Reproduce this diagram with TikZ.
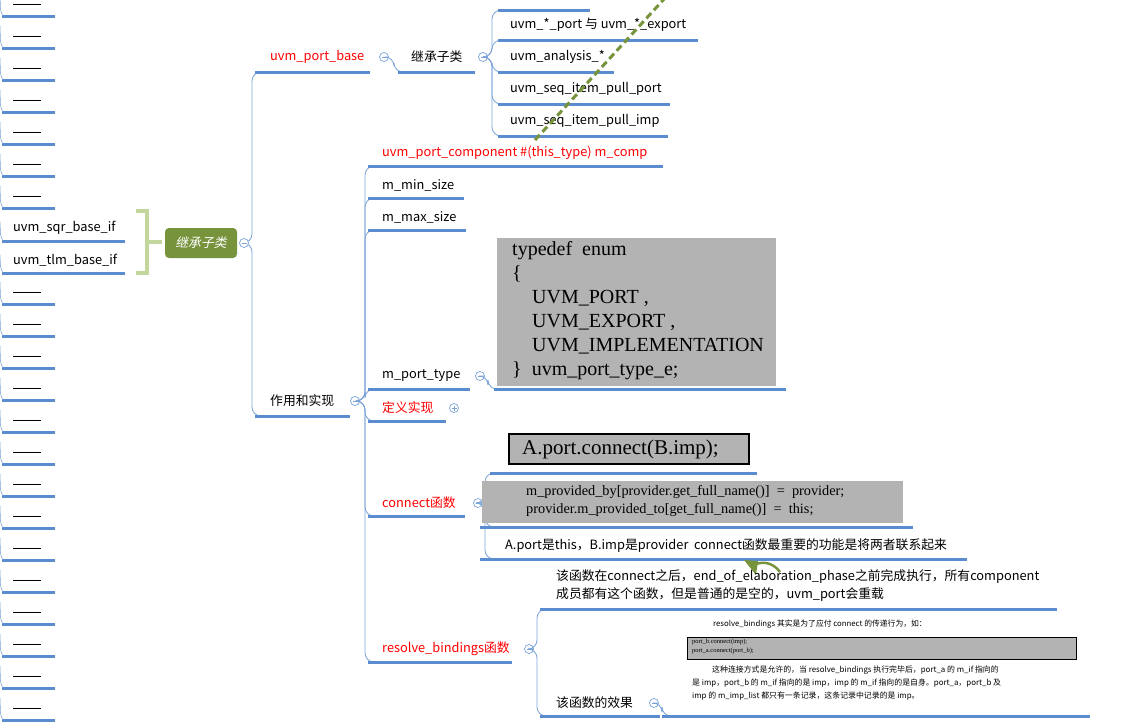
\documentclass[tikz,border=0pt]{standalone}
\usepackage{fontspec}
\setmainfont{Noto Sans CJK SC}
\newfontfamily\slantcjk[FakeSlant=0.2]{Noto Sans CJK SC}
\newfontfamily\serifx{Liberation Serif}
\usetikzlibrary{arrows.meta}
\definecolor{ub}{HTML}{5B8CD0}
\definecolor{cb}{HTML}{7AA3D8}
\definecolor{ol}{HTML}{77933C}
\definecolor{lg}{HTML}{C3D69B}
\definecolor{gb}{HTML}{B3B3B3}
\definecolor{rd}{HTML}{FF0000}
\tikzset{
 ul/.style={ub,line width=3pt},
 br/.style={cb,line width=0.8pt,rounded corners=9pt},
 tx/.style={anchor=west,inner sep=0pt,font=\fontsize{12.8}{15}\selectfont},
 rt/.style={tx,text=rd},
}
\newcommand{\minusc}[2]{\draw[cb,fill=white,line width=0.7pt] (#1,#2) circle (4.5pt); \draw[cb,line width=0.7pt] (#1-2.5,#2)--(#1+2.5,#2);}
\newcommand{\plusc}[2]{\minusc{#1}{#2}\draw[cb,line width=0.7pt] (#1,#2-2.5)--(#1,#2+2.5);}
\begin{document}
\begin{tikzpicture}[x=1pt,y=-1pt]
\useasboundingbox (0,0) rectangle (1125,723);
% left column
\foreach \y in {4,36,...,196,292,324,...,708} \draw[black,line width=0.8pt] (13,\y)--(41,\y);
\foreach \y in {16,48,...,208,304,336,...,720} {\draw[ul] (2,\y)--(55,\y); \draw[cb,line width=0.6pt,rounded corners=4pt] (0,\y-22)--(0.5,\y-4)--(3,\y);}
\draw[ul] (2,241)--(125,241); \draw[ul] (2,273)--(125,273);
\draw[cb,line width=0.6pt,rounded corners=4pt] (0,222)--(0.5,237)--(3,241);
\draw[cb,line width=0.6pt,rounded corners=4pt] (0,255)--(0.5,269)--(3,273);
\node[tx] (sqr) at (13,228) {uvm\_sqr\_base\_if};
\node[tx] (tlm) at (13,260) {uvm\_tlm\_base\_if};
% bracket
\draw[lg,line width=4pt] (136,211)--(147,211)--(147,273)--(136,273);
\draw[lg,line width=4pt] (147,242)--(162,242);
\node[fill=ol,rounded corners=4pt,minimum width=72pt,minimum height=30pt,text=white,font=\fontsize{12.8}{15}\slantcjk] (root) at (201,243) {继承子类};
\coordinate (rc) at (244,243);
% trunk
\draw[br] (rc)--(252,243)--(252,72)--(262,72);
\draw[br] (rc)--(252,243)--(252,416)--(262,416);
\minusc{244}{243}
% uvm_port_base
\draw[ul] (255,72)--(370,72);
\node[rt] (pb) at (270,57) {uvm\_port\_base};
\minusc{384}{57}
\draw[br] (388,57)--(394,57)--(394,72)--(400,72);
\draw[ul] (398,72)--(475,72);
\node[tx] (jc) at (411,57) {继承子类};
\minusc{483}{57}
\foreach \yy in {10,40,72,104,136} \draw[br] (487,57)--(492,57)--(492,\yy)--(500,\yy);
\draw[ul] (498,10)--(590,10);
\draw[ul] (498,40)--(698,40);
\draw[ul] (498,72)--(614,72);
\draw[ul] (498,104)--(670,104);
\draw[ul] (498,136)--(668,136);
\node[tx] (c1) at (510,25) {uvm\_*\_port 与 uvm\_*\_export};
\node[tx] (c2) at (510,57) {uvm\_analysis\_*};
\node[tx] (c3) at (510,89) {uvm\_seq\_item\_pull\_port};
\node[tx] (c4) at (510,121) {uvm\_seq\_item\_pull\_imp};
\node[tx] (c0) at (510,-6) {uvm\_*\_if};
% 作用和实现
\draw[ul] (255,416)--(350,416);
\node[tx] (zy) at (270,401) {作用和实现};
\minusc{355}{401}
\foreach \yy in {166,198,230,389,421,516,662} \draw[br] (359,401)--(365,401)--(365,\yy)--(372,\yy);
\draw[ul] (368,166)--(663,166);
\node[rt] (mc) at (382,153) {uvm\_port\_component \#(this\_type) m\_comp};
\draw[ul] (368,198)--(464,198);
\node[tx] (mn) at (382,185) {m\_min\_size};
\draw[ul] (368,230)--(466,230);
\node[tx] (mx) at (382,217) {m\_max\_size};
% m_port_type
\draw[ul] (368,389)--(470,389);
\node[tx] (mp) at (382,376) {m\_port\_type};
\minusc{480}{376}
\draw[br] (484,376)--(488,376)--(488,389)--(496,389);
\draw[ul] (494,389)--(786,389);
\node[fill=gb,anchor=north west,minimum width=279pt,minimum height=148pt,inner sep=0pt] (enb) at (497,238) {};
\node[anchor=north west,inner sep=0pt,align=left,font=\serifx\fontsize{20}{24}\selectfont] (en) at (512,241) {typedef\ \ enum\\\{\\\hspace{20pt}UVM\_PORT\ ,\\\hspace{20pt}UVM\_EXPORT\ ,\\\hspace{20pt}UVM\_IMPLEMENTATION\\\}\ \ uvm\_port\_type\_e;};
% 定义实现
\draw[ul] (368,421)--(446,421);
\node[rt] (dy) at (382,408) {定义实现};
\plusc{454}{408}
% connect
\draw[ul] (368,516)--(465,516);
\node[rt] (cf) at (382,503) {connect函数};
\minusc{478}{503}
\foreach \yy in {473,527,559} \draw[br] (482,503)--(485,503)--(485,\yy)--(493,\yy);
\draw[ul] (490,473)--(757,473);
\node[fill=gb,draw=black,line width=1.5pt,anchor=north west,minimum width=240pt,minimum height=30pt,inner sep=0pt] (ab) at (508,433) {};
\node[anchor=west,inner sep=0pt,font=\serifx\fontsize{21}{24}\selectfont] (abt) at (522,449) {A.port.connect(B.imp);};
\draw[ul] (480,527)--(913,527);
\node[fill=gb,anchor=north west,minimum width=421pt,minimum height=42pt,inner sep=0pt] (pb2) at (482,481) {};
\node[anchor=north west,inner sep=0pt,align=left,font=\serifx\fontsize{14.3}{18}\selectfont] (pbt) at (526,485) {m\_provided\_by[provider.get\_full\_name()]\ \ =\ \ provider;\\provider.m\_provided\_to[get\_full\_name()]\ \ =\ \ this;};
\draw[ul] (480,559)--(967,559);
\node[tx] (ap) at (505,546) {A.port是this，B.imp是provider\ \ connect函数最重要的功能是将两者联系起来};
% green arrow
\draw[ol,line width=2.5pt] (780,572) .. controls (772,561) and (760,561) .. (752,566);
\fill[ol] (744,560)--(756,575)--(758,561)--cycle;
% resolve_bindings
\draw[ul] (368,662)--(512,662);
\node[rt] (rb) at (382,649) {resolve\_bindings函数};
\minusc{529}{649}
\foreach \yy in {609,716} \draw[br] (533,649)--(537,649)--(537,\yy)--(545,\yy);
\draw[ul] (540,609)--(1057,609);
\node[anchor=north west,inner sep=0pt,align=left,font=\fontsize{12.8}{18}\selectfont] (rbt) at (556,569) {该函数在connect之后，end\_of\_elaboration\_phase之前完成执行，所有component\\成员都有这个函数，但是普通的是空的，uvm\_port会重载};
\draw[ul] (540,716)--(660,716);
\node[tx] (xg) at (556,703) {该函数的效果};
\minusc{654}{703}
\draw[br] (658,703)--(662,703)--(662,716)--(668,716);
\draw[ul] (662,716)--(1090,716);
\node[anchor=west,inner sep=0pt,font=\fontsize{7.8}{9}\selectfont] (s1) at (713,624) {resolve\_bindings 其实是为了应付 connect 的传递行为，如：};
\node[fill=gb,draw=black,line width=0.5pt,anchor=north west,minimum width=389pt,minimum height=22pt,inner sep=0pt] (s2b) at (687,637) {};
\node[anchor=north west,inner sep=0pt,align=left,font=\serifx\fontsize{6.5}{8.5}\selectfont] (s2) at (692,639) {port\_b.connect(imp);\\port\_a.connect(port\_b);};
\node[anchor=north west,inner sep=0pt,align=left,font=\fontsize{7.9}{13}\selectfont] (s3) at (692,666) {\hspace{20pt}这种连接方式是允许的，当 resolve\_bindings 执行完毕后，port\_a 的 m\_if 指向的\\是 imp，port\_b 的 m\_if 指向的是 imp，imp 的 m\_if 指向的是自身。port\_a，port\_b 及\\imp 的 m\_imp\_list 都只有一条记录，这条记录中记录的是 imp。};
% dashed green line
\draw[ol,line width=3pt,dash pattern=on 7pt off 4pt] (535,140)--(665,-2);
\end{tikzpicture}
\end{document}
